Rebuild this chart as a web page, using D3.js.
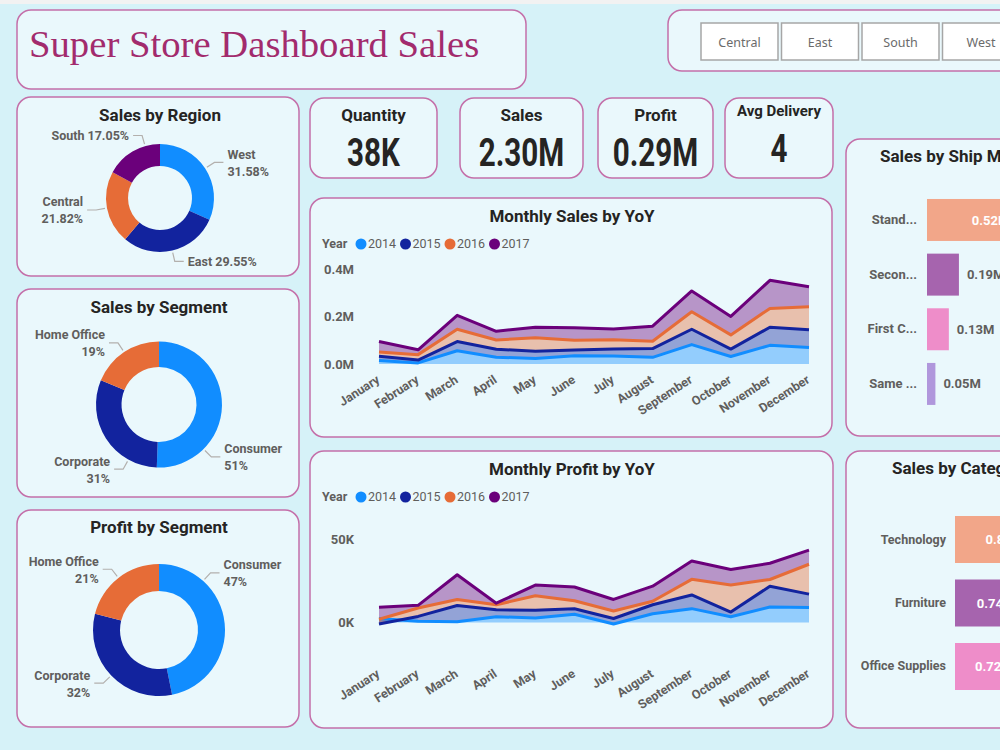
<!DOCTYPE html>
<html>
<head>
<meta charset="utf-8">
<script src="https://cdn.jsdelivr.net/npm/d3@7"></script>
<style>
  body { margin: 0; background: #d6f2f8; }
  svg { display: block; font-family: Roboto, "Noto Sans", sans-serif; }
</style>
</head>
<body>
<div id="dash"></div>
<script>
// ---- data ----
var months = ["January", "February", "March", "April", "May", "June", "July",
  "August", "September", "October", "November", "December"];
var years = ["2014", "2015", "2016", "2017"];

var sales2014 = [14237, 4520, 55691, 28295, 23648, 34595, 33946, 27909, 81777, 31453, 78629, 69546];
var sales2015 = [18174, 11951, 38726, 34195, 30132, 24797, 28765, 36898, 64596, 31405, 75973, 74920];
var sales2016 = [18542, 22979, 51716, 38750, 56988, 40345, 39262, 31115, 73410, 59688, 79412, 96999];
var sales2017 = [43971, 20301, 58872, 36522, 44261, 52982, 45264, 63121, 87867, 77777, 118448, 83829];

var profit2014 = [2450, 862, 499, 3489, 2739, 4977, -841, 5318, 8328, 3448, 9292, 8984];
var profit2015 = [-3281, 2814, 9732, 4187, 4668, 3336, 3289, 5356, 8210, 2817, 12475, 8017];
var profit2016 = [2825, 5004, 3611, 2978, 8662, 4750, 4432, 2063, 9328, 16243, 4011, 17885];
var profit2017 = [7140, 1614, 14752, 934, 6342, 8223, 6953, 9041, 10992, 9275, 9690, 8483];

var regions = ["West", "East", "Central", "South"];
var regionShare = [31.58, 29.55, 21.82, 17.05];

var segments = ["Consumer", "Corporate", "Home Office"];
var segmentSalesShare = [50.56, 30.74, 18.70];
var segmentProfitShare = [46.82, 32.12, 21.06];

var kpiNames = ["Quantity", "Sales", "Profit", "Avg Delivery"];
var kpiValues = ["38K", "2.30M", "0.29M", "4"];

var slicerRegions = ["Central", "East", "South", "West"];

var shipModes = ["Standard Class", "Second Class", "First Class", "Same Day"];
var shipSales = [0.52, 0.19, 0.13, 0.05];

var categories = ["Technology", "Furniture", "Office Supplies"];
var categorySales = [0.84, 0.74, 0.72];

// ---- styling ----
var yearColors = ["#118DFF", "#12239E", "#E66C37", "#6B007B"];
var barColors = ["#F2A689", "#A664AE", "#EE8DC9", "#B097DC"];
var panelFill = "#eaf8fc";
var panelStroke = "#c46fa9";
var labelGray = "#605E5C";
var titleColor = "#252423";

var svgWidth = 1000;
var svgHeight = 750;

var svg = d3.select("#dash")
  .append("svg")
  .attr("width", svgWidth)
  .attr("height", svgHeight);

svg.append("rect").attr("width", svgWidth).attr("height", svgHeight).attr("fill", "#d6f2f8");
svg.append("rect").attr("width", svgWidth).attr("height", 4).attr("fill", "#f2f2f2");

function panel(x, y, w, h) {
  return svg.append("rect")
    .attr("x", x).attr("y", y)
    .attr("width", w).attr("height", h)
    .attr("rx", 14)
    .attr("fill", panelFill)
    .attr("stroke", panelStroke)
    .attr("stroke-width", 1.5);
}

function title(txt, x, y, size, anchor) {
  return svg.append("text")
    .attr("x", x).attr("y", y)
    .attr("text-anchor", anchor || "middle")
    .attr("font-size", size || 17)
    .attr("font-weight", 700)
    .attr("fill", titleColor)
    .text(txt);
}

// ---- header ----
panel(17, 10, 509, 79);
svg.append("text")
  .attr("x", 29).attr("y", 57)
  .attr("font-family", "'Liberation Serif', 'Times New Roman', serif")
  .attr("font-size", 38.7)
  .attr("fill", "#a22b6d")
  .text("Super Store Dashboard Sales");

// slicer
panel(668, 10, 360, 61);
var btn = svg.selectAll("g.btn")
  .data(slicerRegions)
  .enter().append("g")
  .attr("transform", function(d, i) { return "translate(" + (701 + i * 80.5) + ",23)"; });
btn.append("rect")
  .attr("width", 77).attr("height", 37)
  .attr("fill", "#ffffff")
  .attr("stroke", "#a6a6a6")
  .attr("stroke-width", 1.5);
btn.append("text")
  .attr("x", 38.5).attr("y", 23.5)
  .attr("text-anchor", "middle")
  .attr("font-family", "'Noto Sans', 'Open Sans', sans-serif")
  .attr("font-size", 12.5)
  .attr("fill", "#6b6b6b")
  .text(function(d) { return d; });

// ---- KPI cards ----
var kpiBoxes = [[310, 127], [460, 123], [598, 115], [725, 108]];
kpiNames.forEach(function(name, i) {
  var bx = kpiBoxes[i][0], bw = kpiBoxes[i][1];
  var small = name.length > 10;
  panel(bx, 98, bw, 80);
  title(name, bx + bw / 2, small ? 116 : 121, small ? 15 : 17);
  // condensed look of the card font
  svg.append("text")
    .attr("transform", "translate(" + (bx + bw / 2) + "," + (small ? 162 : 166) + ") scale(0.76,1)")
    .attr("text-anchor", "middle")
    .attr("font-size", 39)
    .attr("font-weight", 700)
    .attr("fill", titleColor)
    .text(kpiValues[i]);
});

// ---- donuts ----
function donut(o) {
  panel(o.box[0], o.box[1], o.box[2], o.box[3]);
  title(o.title, o.cx, o.titleY);

  var pie = d3.pie().sort(null).value(function(d) { return d.v; });
  var arcs = pie(o.names.map(function(n, i) { return { name: n, v: o.values[i] }; }));
  var arc = d3.arc().innerRadius(o.rIn).outerRadius(o.rOut);

  var g = svg.append("g").attr("transform", "translate(" + o.cx + "," + o.cy + ")");
  g.selectAll("path.slice")
    .data(arcs)
    .enter().append("path")
    .attr("class", "slice")
    .attr("d", arc)
    .attr("fill", function(d, i) { return yearColors[i]; });

  arcs.forEach(function(d) {
    var ang = (o.labelAngle && o.labelAngle[d.data.name] != null)
      ? o.labelAngle[d.data.name] * Math.PI / 180
      : (d.startAngle + d.endAngle) / 2;
    var sx = Math.sin(ang), sy = -Math.cos(ang);
    var side = sx >= 0 ? 1 : -1;
    var p0 = [sx * (o.rOut + 2), sy * (o.rOut + 2)];
    var p1 = [sx * (o.rOut + 11), sy * (o.rOut + 11)];
    var p2 = [p1[0] + side * 9, p1[1]];
    g.append("polyline")
      .attr("points", [p0, p1, p2].map(function(p) { return p.join(","); }).join(" "))
      .attr("fill", "none")
      .attr("stroke", "#b3b0ad")
      .attr("stroke-width", 1.2);

    var pct = o.fmt(d.data.v);
    var t = g.append("text")
      .attr("x", p2[0] + side * 4)
      .attr("text-anchor", side > 0 ? "start" : "end")
      .attr("font-size", 12.5)
      .attr("font-weight", 700)
      .attr("fill", labelGray);
    if (o.oneLine.indexOf(d.data.name) >= 0) {
      t.attr("y", p2[1]).attr("dy", "0.35em").text(d.data.name + " " + pct);
    } else {
      t.append("tspan").attr("x", p2[0] + side * 4).attr("y", p2[1] - 8).attr("dy", "0.35em").text(d.data.name);
      t.append("tspan").attr("x", p2[0] + side * 4).attr("y", p2[1] + 9).attr("dy", "0.35em").text(pct);
    }
  });
}

donut({
  box: [17, 97, 282, 179], title: "Sales by Region", titleY: 121,
  cx: 160, cy: 198, rOut: 54, rIn: 32,
  names: regions, values: regionShare,
  fmt: function(v) { return v.toFixed(2) + "%"; },
  labelAngle: { South: 344 }, oneLine: ["South", "East"]
});
donut({
  box: [17, 289, 282, 208], title: "Sales by Segment", titleY: 313,
  cx: 159, cy: 404.5, rOut: 63, rIn: 37.5,
  names: segments, values: segmentSalesShare,
  fmt: function(v) { return Math.round(v) + "%"; },
  labelAngle: { Consumer: 135, Corporate: 209 }, oneLine: []
});
donut({
  box: [17, 510, 282, 217], title: "Profit by Segment", titleY: 533,
  cx: 159, cy: 630, rOut: 66, rIn: 39,
  names: segments, values: segmentProfitShare,
  fmt: function(v) { return Math.round(v) + "%"; },
  labelAngle: { Consumer: 42 }, oneLine: []
});

// ---- stacked area charts ----
function stackedChart(o) {
  panel(o.box[0], o.box[1], o.box[2], o.box[3]);
  title(o.title, 572, o.titleY);

  // legend
  var ly = o.legendY;
  svg.append("text").attr("x", 322).attr("y", ly).attr("dy", "0.35em")
    .attr("font-size", 12.5).attr("font-weight", 700).attr("fill", labelGray).text("Year");
  var leg = svg.selectAll(null).data(years).enter().append("g")
    .attr("transform", function(d, i) { return "translate(" + (361 + i * 44.5) + "," + ly + ")"; });
  leg.append("circle").attr("r", 5.5).attr("fill", function(d, i) { return yearColors[i]; });
  leg.append("text").attr("x", 7).attr("dy", "0.35em")
    .attr("font-size", 12.5).attr("fill", labelGray).text(function(d) { return d; });

  var rows = months.map(function(m, i) {
    var r = { month: m };
    years.forEach(function(y, k) { r[y] = o.series[k][i]; });
    return r;
  });
  var stacked = d3.stack().keys(years)(rows);

  var x = d3.scalePoint().domain(months).range([379, 809]);
  var y = d3.scaleLinear().domain(o.yDomain).range(o.yRange);

  var area = d3.area()
    .x(function(d) { return x(d.data.month); })
    .y0(function(d) { return y(d[0]); })
    .y1(function(d) { return y(d[1]); });
  var line = d3.line()
    .x(function(d) { return x(d.data.month); })
    .y(function(d) { return y(d[1]); });

  var g = svg.append("g");
  g.selectAll("path.band").data(stacked).enter().append("path")
    .attr("class", "band")
    .attr("d", area)
    .attr("fill", function(d, i) { return yearColors[i]; })
    .attr("fill-opacity", 0.4);
  g.selectAll("path.ln").data(stacked).enter().append("path")
    .attr("class", "ln")
    .attr("d", line)
    .attr("fill", "none")
    .attr("stroke", function(d, i) { return yearColors[i]; })
    .attr("stroke-width", 3)
    .attr("stroke-linejoin", "round");

  var yAxis = svg.append("g")
    .attr("transform", "translate(357,0)")
    .call(d3.axisLeft(y).tickValues(o.yTicks).tickSize(0).tickPadding(3).tickFormat(o.yFmt));
  yAxis.select(".domain").remove();
  yAxis.selectAll("text")
    .attr("font-family", "Roboto, sans-serif")
    .attr("font-size", 13).attr("font-weight", 700).attr("fill", labelGray);

  var xAxis = svg.append("g")
    .attr("transform", "translate(0," + o.xAxisY + ")")
    .call(d3.axisBottom(x).tickSize(0));
  xAxis.select(".domain").remove();
  xAxis.selectAll("text")
    .attr("font-family", "Roboto, sans-serif")
    .attr("font-size", 12.5).attr("font-weight", 700).attr("fill", labelGray)
    .attr("text-anchor", "end")
    .attr("x", 0).attr("y", 0).attr("dy", "0.75em")
    .attr("transform", "translate(-4,10) rotate(-33)");
}

stackedChart({
  box: [310, 198, 522, 239], title: "Monthly Sales by YoY", titleY: 222, legendY: 244,
  series: [sales2014, sales2015, sales2016, sales2017],
  yDomain: [0, 400000], yRange: [364, 269], yTicks: [0, 200000, 400000],
  yFmt: function(d) { return (d / 1e6).toFixed(1) + "M"; },
  xAxisY: 364
});
stackedChart({
  box: [310, 451, 523, 277], title: "Monthly Profit by YoY", titleY: 475, legendY: 497,
  series: [profit2014, profit2015, profit2016, profit2017],
  yDomain: [-20000, 50000], yRange: [656, 539], yTicks: [0, 50000],
  yFmt: function(d) { return (d / 1000) + "K"; },
  xAxisY: 658
});

// ---- bar charts ----
function barChart(o) {
  panel(o.box[0], o.box[1], o.box[2], o.box[3]);
  title(o.title, o.titleX, o.titleY, 17, "start");

  var y = d3.scaleBand().domain(o.names).range(o.yRange).padding(o.pad);
  var x = d3.scaleLinear().domain([0, 1]).range([o.x0, o.x0 + o.pxPerM]);

  var g = svg.append("g");
  g.selectAll("rect").data(o.values).enter().append("rect")
    .attr("x", x(0))
    .attr("y", function(d, i) { return y(o.names[i]); })
    .attr("width", function(d) { return x(d) - x(0); })
    .attr("height", y.bandwidth())
    .attr("fill", function(d, i) { return barColors[i]; });

  g.selectAll("text.val").data(o.values).enter().append("text")
    .attr("class", "val")
    .attr("x", function(d) { return x(d) - x(0) > 50 ? x(d) - 5 : x(d) + 8; })
    .attr("y", function(d, i) { return y(o.names[i]) + y.bandwidth() / 2; })
    .attr("dy", "0.35em")
    .attr("text-anchor", function(d) { return x(d) - x(0) > 50 ? "end" : "start"; })
    .attr("font-size", 13).attr("font-weight", 700)
    .attr("fill", function(d) { return x(d) - x(0) > 50 ? "#ffffff" : labelGray; })
    .text(function(d) { return d.toFixed(2) + "M"; });

  var ax = svg.append("g")
    .attr("transform", "translate(" + o.x0 + ",0)")
    .call(d3.axisLeft(y).tickSize(0).tickPadding(o.labelPad));
  ax.select(".domain").remove();
  ax.selectAll("text")
    .attr("font-family", "Roboto, sans-serif")
    .attr("font-size", o.labelSize).attr("font-weight", 700).attr("fill", labelGray)
    .each(function() {
      if (!o.maxLabel) return;
      var t = d3.select(this), s = t.text();
      if (this.getComputedTextLength() <= o.maxLabel) return;
      while (s.length > 1) {
        s = s.slice(0, -1);
        t.text(s + "...");
        if (this.getComputedTextLength() <= o.maxLabel) break;
      }
    });
}

barChart({
  box: [846, 139, 230, 297], title: "Sales by Ship Mode", titleX: 880, titleY: 162,
  names: shipModes, values: shipSales,
  yRange: [186.3, 417.6], pad: 0.232, x0: 927, pxPerM: 168,
  labelPad: 10, labelSize: 13, maxLabel: 51
});
barChart({
  box: [846, 451, 230, 277], title: "Sales by Category", titleX: 892, titleY: 474,
  names: categories, values: categorySales,
  yRange: [499.5, 706.5], pad: 0.26, x0: 955, pxPerM: 87,
  labelPad: 9, labelSize: 12.5, maxLabel: 0
});
</script>
</body>
</html>
